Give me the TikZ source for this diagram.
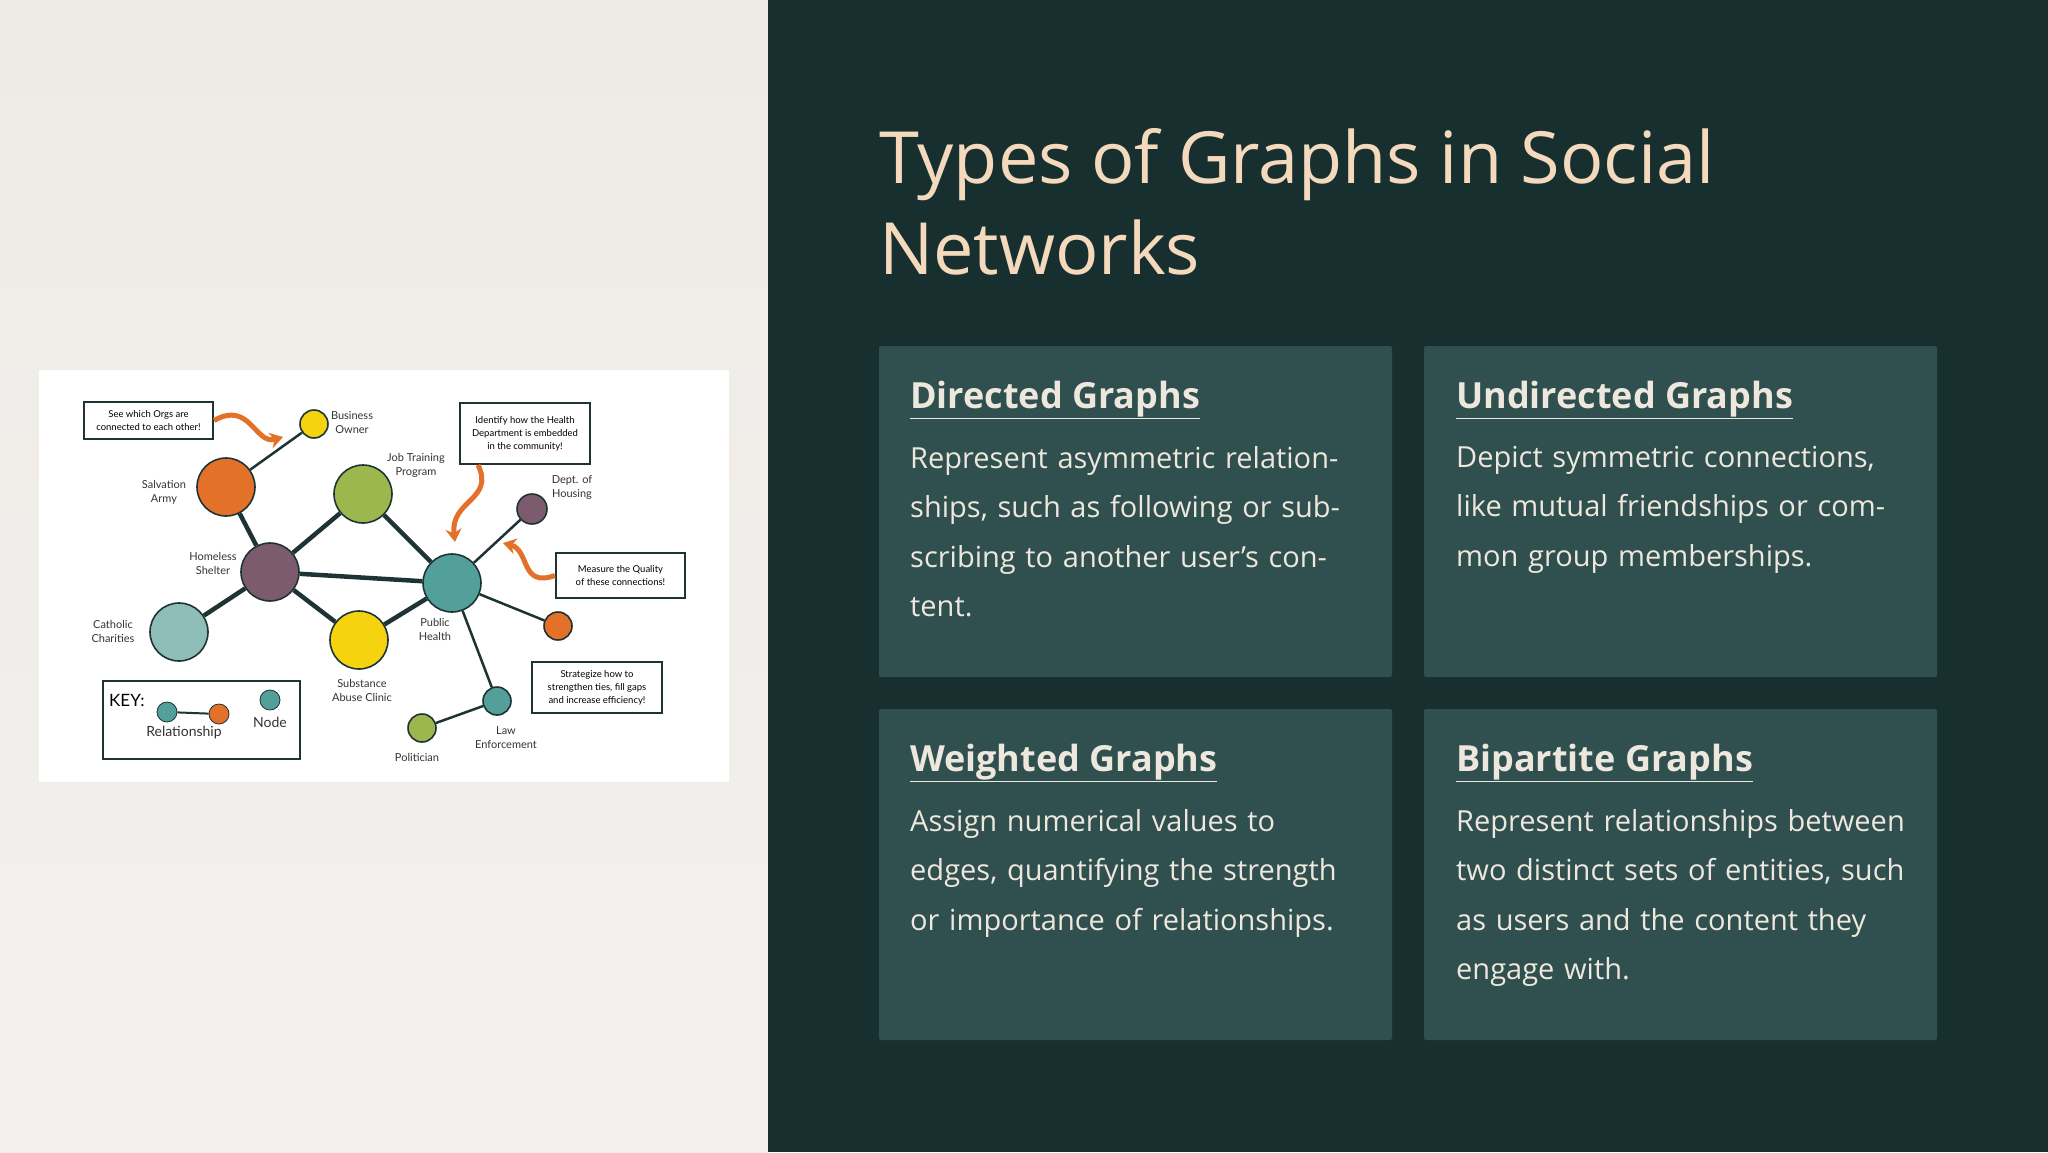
\documentclass[tikz,border=0pt]{standalone}
\usepackage{fontspec}
\setmainfont{Open Sans}
\newfontfamily\lab{Lato}
\usetikzlibrary{arrows.meta}
\newcommand\nohyph{\hyphenpenalty=10000\relax}
\definecolor{bgR}{HTML}{17302F}
\definecolor{card}{HTML}{2F504E}
\definecolor{ttl}{HTML}{F5D9BD}
\definecolor{txt}{HTML}{EEE7DD}
\definecolor{dk}{HTML}{1E3434}
\definecolor{cOr}{HTML}{E3712A}
\definecolor{cGr}{HTML}{9DB74F}
\definecolor{cPu}{HTML}{7B5B6D}
\definecolor{cLt}{HTML}{8FBDB8}
\definecolor{cYe}{HTML}{F5D30F}
\definecolor{cTe}{HTML}{53A09B}
\definecolor{lTop}{HTML}{EEEBE6}
\definecolor{lBot}{HTML}{F2F1EE}
\tikzset{
 cardbox/.style={fill=card,draw=none,rounded corners=2pt},
 head/.style={anchor=west,inner sep=0,text=txt,font=\bfseries\fontsize{36}{44}\selectfont},
 body/.style={anchor=north west,inner sep=0,text=txt,align=left,text width=460pt,font=\fontsize{29}{49.5}\selectfont},
 nd/.style={circle,draw=dk,line width=1.6pt,inner sep=0pt},
 lb/.style={align=center,font=\lab\fontsize{11}{14}\selectfont,text=black!80},
 note/.style={draw=dk,line width=2.2pt,align=center,font=\lab\fontsize{9.5}{13}\selectfont,inner sep=0pt},
 thick edge/.style={draw=dk,line width=4.5pt},
 thin edge/.style={draw=dk,line width=2.5pt},
 oarrow/.style={draw=cOr,line width=5pt,-{Stealth[length=13pt,width=16pt]}}
}
\begin{document}
\begin{tikzpicture}[x=1pt,y=-1pt]
\useasboundingbox (0,0) rectangle (2048,1152);
\shade[top color=lTop, bottom color=lBot] (0,0) rectangle (768,1152);
\fill[bgR] (768,0) rectangle (2048,1152);
\node[anchor=base west,text=ttl,font=\fontsize{72}{92}\selectfont,inner sep=0] (t1) at (879,183) {Types of Graphs in Social};
\node[anchor=base west,text=ttl,font=\fontsize{72}{92}\selectfont,inner sep=0] (t2) at (879,274) {Networks};
% cards
\fill[cardbox] (879,346) rectangle (1392,677);
\fill[cardbox] (1424,346) rectangle (1937,677);
\fill[cardbox] (879,709) rectangle (1392,1040);
\fill[cardbox] (1424,709) rectangle (1937,1040);
\node[head] (h1) at (910,400) {\underline{Directed Graphs}};
\node[head] (h2) at (1456,400) {\underline{Undirected Graphs}};
\node[head] (h3) at (910,763) {\underline{Weighted Graphs}};
\node[head] (h4) at (1456,763) {\underline{Bipartite Graphs}};
\node[body] (b1) at (910,446) {\nohyph Represent asymmetric relationships, such as following or subscribing to another user's content.};
\node[body] (b2) at (1456,446) {\nohyph Depict symmetric connections, like mutual friendships or common group memberships.};
\node[body] (b3) at (910,809) {\nohyph Assign numerical values to edges, quantifying the strength or importance of relationships.};
\node[body] (b4) at (1456,809) {\nohyph Represent relationships between two distinct sets of entities, such as users and the content they engage with.};
% left image
\fill[white] (39,370) rectangle (729,782);
\node[nd,fill=cYe,minimum size=28pt] (bo) at (314,424) {};
\node[nd,fill=cOr,minimum size=58pt] (sa) at (226,487) {};
\node[nd,fill=cGr,minimum size=58pt] (jt) at (363,494) {};
\node[nd,fill=cPu,minimum size=58pt] (hs) at (270,572) {};
\node[nd,fill=cLt,minimum size=58pt] (cc) at (179,632) {};
\node[nd,fill=cYe,minimum size=58pt] (sc) at (359,640) {};
\node[nd,fill=cTe,minimum size=58pt] (ph) at (452,583) {};
\node[nd,fill=cPu,minimum size=30pt] (dh) at (532,509) {};
\node[nd,fill=cOr,minimum size=28pt] (os) at (558,626) {};
\node[nd,fill=cTe,minimum size=28pt] (le) at (497,701) {};
\node[nd,fill=cGr,minimum size=28pt] (po) at (422,728) {};
\path[thin edge] (sa) -- (bo);
\path[thick edge] (hs) -- (sa);
\path[thick edge] (hs) -- (jt);
\path[thick edge] (hs) -- (cc);
\path[thick edge] (hs) -- (sc);
\path[thick edge] (hs) -- (ph);
\path[thick edge] (jt) -- (ph);
\path[thick edge] (sc) -- (ph);
\path[thin edge] (ph) -- (dh);
\path[thin edge] (ph) -- (os);
\path[thin edge] (ph) -- (le);
\path[thin edge] (le) -- (po);
% labels
\node[lb] (lbo) at (352,423) {Business\\Owner};
\node[lb] (lsa) at (164,492) {Salvation\\Army};
\node[lb] (ljt) at (416,465) {Job Training\\Program};
\node[lb] (lhs) at (213,563) {Homeless\\Shelter};
\node[lb] (lcc) at (113,631) {Catholic\\Charities};
\node[lb] (lsc) at (362,690) {Substance\\Abuse Clinic};
\node[lb] (lph) at (435,629) {Public\\Health};
\node[lb] (ldh) at (572,487) {Dept. of\\Housing};
\node[lb] (lle) at (506,738) {Law\\Enforcement};
\node[lb] (lpo) at (417,757) {Politician};
% notes
\node[note,minimum width=129pt,minimum height=37pt] (n1) at (148.5,420.5) {See which Orgs are\\connected to each other!};
\node[note,minimum width=130pt,minimum height=61pt] (n2) at (525,433.5) {Identify how the Health\\Department is embedded\\in the community!};
\node[note,minimum width=129pt,minimum height=45pt] (n3) at (620.5,575.5) {Measure the Quality\\of these connections!};
\node[note,minimum width=130pt,minimum height=51pt] (n4) at (597,687.5) {Strategize how to\\strengthen ties, fill gaps\\and increase efficiency!};
\coordinate (a1) at (283,437);
\coordinate (a2) at (455,542);
\coordinate (a3) at (503,543);
\draw[oarrow] (n1.east) .. controls (250,400) and (255,445) .. (a1);
\draw[oarrow] (478,465) .. controls (495,500) and (450,500) .. (a2);
\draw[oarrow] (n3.west) .. controls (520,588) and (530,550) .. (a3);
% key
\draw[dk,line width=2.2pt] (103,681) rectangle (300,759);
\node[anchor=west,font=\lab\fontsize{17}{20}\selectfont,inner sep=0] (kk) at (109,700) {KEY:};
\node[nd,fill=cTe,minimum size=20pt,line width=0.8pt] (k1) at (167,712) {};
\node[nd,fill=cOr,minimum size=20pt,line width=0.8pt] (k2) at (219,714) {};
\path[draw=dk,line width=2pt] (k1) -- (k2);
\node[nd,fill=cTe,minimum size=20pt,line width=0.8pt] (k3) at (270,700) {};
\node[lb,font=\lab\fontsize{14}{16}\selectfont] (kr) at (184,733) {Relationship};
\node[lb,font=\lab\fontsize{14}{16}\selectfont] (kn) at (270,722) {Node};
\end{tikzpicture}
\end{document}
